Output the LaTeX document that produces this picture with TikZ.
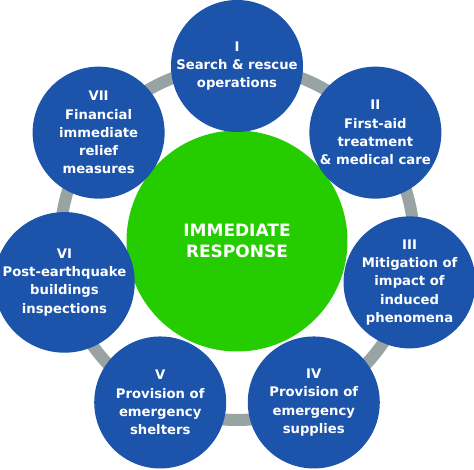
\documentclass[tikz,border=0pt]{standalone}
\usepackage{fontspec}
\setmainfont{DejaVu Sans}
\definecolor{ringgray}{RGB}{152,163,163}
\definecolor{stageblue}{RGB}{28,84,172}
\definecolor{coregreen}{RGB}{36,204,0}

\begin{document}
\begin{tikzpicture}[x=1pt,y=1pt,
  every node/.style={shape=circle,inner sep=0pt,text=white,align=center,font=\fontsize{13.2}{18.3}\selectfont\bfseries},
  stage/.style={fill=stageblue,minimum size=132pt},
  core/.style={fill=coregreen,minimum size=221pt,font=\fontsize{17}{21}\selectfont\bfseries}]
  \useasboundingbox[fill=white] (0,0) rectangle (474,469);
  \coordinate (o) at (237,226);
  \draw[ringgray,line width=12pt] (o) circle (177pt);
  \path (237,228) node[core] (c0) {IMMEDIATE\\RESPONSE};
  \path (o) +(90:177pt) node[stage] (c1) {I\\Search \& rescue\\operations}
  (o) +(38.57:177pt) node[stage] (c2) {II\\First-aid\\treatment\\\& medical care}
  (o) +(-12.86:177pt) node[stage] (c3) {III\\Mitigation of\\impact of\\induced\\phenomena}
  (o) +(-64.29:177pt) node[stage] (c4) {IV\\Provision of\\emergency\\supplies}
  (o) +(-115.71:177pt) node[stage] (c5) {V\\Provision of\\emergency\\shelters}
  (o) +(-167.14:177pt) node[stage] (c6) {VI\\Post-earthquake\\buildings\\inspections}
  (o) +(141.43:177pt) node[stage] (c7) {VII\\Financial\\immediate\\relief\\measures};
\end{tikzpicture}
\end{document}
